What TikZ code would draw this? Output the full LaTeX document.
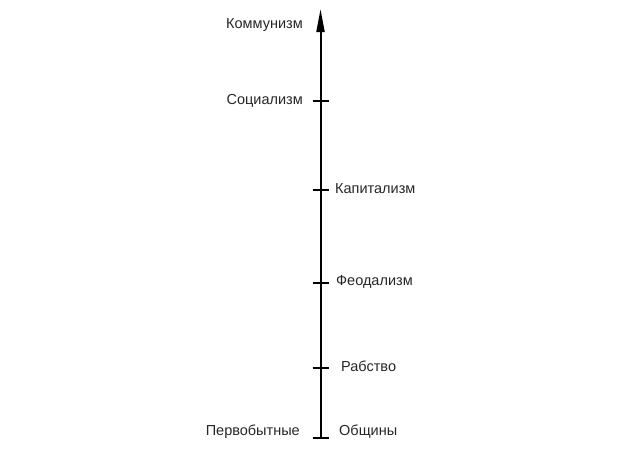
\documentclass[tikz,border=0pt]{standalone}
\usepackage{fontspec}
\setmainfont{Liberation Sans}
\usepackage{tikz}
\usetikzlibrary{arrows.meta,positioning}

\begin{document}
\begin{tikzpicture}[
    x=1pt, y=-1pt,
    axis/.style={line width=2pt, -{Triangle[length=23pt,width=8pt]}},
    tick/.style={line width=1.6pt},
    era/.style={font=\fontsize{14.5}{16}\selectfont, inner sep=0pt, text=black!85}
]
\useasboundingbox (0,0) rectangle (640,455);

% Axis
\coordinate (base) at (320.5,438);
\coordinate (top) at (320.5,9);
\draw[axis] (base) -- (top);

% Tick points
\coordinate (t1) at (320.5,101);
\coordinate (t2) at (320.5,190);
\coordinate (t3) at (320.5,283);
\coordinate (t4) at (320.5,368);
\coordinate (t5) at (320.5,438);
\foreach \t in {t1,t2,t3,t4,t5}
    \draw[tick] ([xshift=-8pt]\t) -- ([xshift=8pt]\t);

% Labels
\node[era, anchor=east] (komm) at (303,25) {Коммунизм};
\node[era, anchor=east] (soc) at (303,101) {Социализм};
\node[era, anchor=west] (kap) at (335,189) {Капитализм};
\node[era, anchor=west] (feod) at (336,282) {Феодализм};
\node[era, anchor=west] (rab) at (341,366) {Рабство};
\node[era, anchor=east] (perv) at (300,432) {Первобытные};
\node[era, anchor=west] (obsh) at (339,432) {Общины};

\end{tikzpicture}
\end{document}
